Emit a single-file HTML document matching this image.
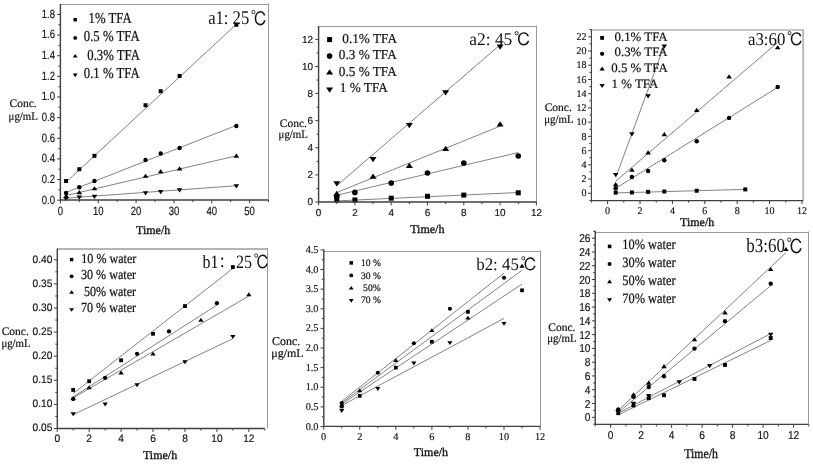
<!DOCTYPE html>
<html lang="en"><head><meta charset="utf-8"><title>Conc. vs Time/h</title>
<style>html,body{margin:0;padding:0;background:#fff}svg{display:block;text-rendering:geometricPrecision}</style>
</head><body>
<svg width="813" height="464" viewBox="0 0 813 464">
<rect width="813" height="464" fill="#fff"/>
<g><path d="M60.4 4.5H268.5" stroke="#999" stroke-width="1" fill="none"/>
<path d="M268.5 3.5V200" stroke="#999" stroke-width="1" fill="none"/>
<path d="M66.08 182.14L236.36 24.24M66.08 192.46L236.36 125.38M66.08 195.56L236.36 155.82M66.08 198.14L236.36 185.75" stroke="#626262" stroke-width="0.8" fill="none"/>
<g fill="#000"><rect x="64.08" y="179" width="4" height="4"/><rect x="77.32" y="167.24" width="4" height="4"/><rect x="92.46" y="153.82" width="4" height="4"/><rect x="143.54" y="103.26" width="4" height="4"/><rect x="158.68" y="89.22" width="4" height="4"/><rect x="177.6" y="73.95" width="4" height="4"/><rect x="234.36" y="22.76" width="4" height="4"/><circle cx="66.08" cy="192.98" r="2.24"/><circle cx="79.32" cy="187.2" r="2.24"/><circle cx="94.46" cy="181" r="2.24"/><circle cx="145.54" cy="159.95" r="2.24"/><circle cx="160.68" cy="153.55" r="2.24"/><circle cx="179.6" cy="147.98" r="2.24"/><circle cx="236.36" cy="125.9" r="2.24"/><path d="M63.28 197.97L68.88 197.97L66.08 193.77Z"/><path d="M76.52 194.15L82.12 194.15L79.32 189.95Z"/><path d="M91.66 190.34L97.26 190.34L94.46 186.14Z"/><path d="M142.74 177.85L148.34 177.85L145.54 173.65Z"/><path d="M157.88 173.2L163.48 173.2L160.68 169Z"/><path d="M176.8 170.42L182.4 170.42L179.6 166.22Z"/><path d="M233.56 157.72L239.16 157.72L236.36 153.52Z"/><path d="M63.28 197.06L68.88 197.06L66.08 201.26Z"/><path d="M76.52 195.62L82.12 195.62L79.32 199.82Z"/><path d="M91.66 194.69L97.26 194.69L94.46 198.89Z"/><path d="M142.74 191.28L148.34 191.28L145.54 195.48Z"/><path d="M157.88 190.04L163.48 190.04L160.68 194.24Z"/><path d="M176.8 188.19L182.4 188.19L179.6 192.39Z"/><path d="M233.56 184.37L239.16 184.37L236.36 188.57Z"/></g>
<path d="M60.4 200v3.4M98.24 200v3.4M136.08 200v3.4M173.92 200v3.4M211.76 200v3.4M249.6 200v3.4M79.32 200v2M117.16 200v2M155 200v2M192.84 200v2M230.68 200v2M268.52 200v2M60.4 200.2h-3.3M60.4 179.56h-3.3M60.4 158.92h-3.3M60.4 138.28h-3.3M60.4 117.64h-3.3M60.4 97h-3.3M60.4 76.36h-3.3M60.4 55.72h-3.3M60.4 35.08h-3.3M60.4 14.44h-3.3M60.4 189.88h-2M60.4 169.24h-2M60.4 148.6h-2M60.4 127.96h-2M60.4 107.32h-2M60.4 86.68h-2M60.4 66.04h-2M60.4 45.4h-2M60.4 24.76h-2" stroke="#3a3a3a" stroke-width="1" fill="none"/>
<path d="M60.4 4V200H268.5" stroke="#404040" stroke-width="1.4" fill="none"/>
<g font-family='"Liberation Sans", Arial, sans-serif' font-size="10" fill="#111" stroke="#111" stroke-width="0.15"><text transform="translate(60.4 215.2) scale(0.95 1.2)" text-anchor="middle">0</text><text transform="translate(98.24 215.2) scale(0.95 1.2)" text-anchor="middle">10</text><text transform="translate(136.08 215.2) scale(0.95 1.2)" text-anchor="middle">20</text><text transform="translate(173.92 215.2) scale(0.95 1.2)" text-anchor="middle">30</text><text transform="translate(211.76 215.2) scale(0.95 1.2)" text-anchor="middle">40</text><text transform="translate(249.6 215.2) scale(0.95 1.2)" text-anchor="middle">50</text><text transform="translate(55 203.6) scale(0.95 1.2)" text-anchor="end">0.0</text><text transform="translate(55 182.96) scale(0.95 1.2)" text-anchor="end">0.2</text><text transform="translate(55 162.32) scale(0.95 1.2)" text-anchor="end">0.4</text><text transform="translate(55 141.68) scale(0.95 1.2)" text-anchor="end">0.6</text><text transform="translate(55 121.04) scale(0.95 1.2)" text-anchor="end">0.8</text><text transform="translate(55 100.4) scale(0.95 1.2)" text-anchor="end">1.0</text><text transform="translate(55 79.76) scale(0.95 1.2)" text-anchor="end">1.2</text><text transform="translate(55 59.12) scale(0.95 1.2)" text-anchor="end">1.4</text><text transform="translate(55 38.48) scale(0.95 1.2)" text-anchor="end">1.6</text><text transform="translate(55 17.84) scale(0.95 1.2)" text-anchor="end">1.8</text></g>
<text transform="translate(208.2 24.3) scale(1 1.17)" font-family='"Liberation Serif", "Noto Serif CJK SC", "Noto Sans CJK SC", serif' font-size="16.6" fill="#111">a1: 25<tspan font-family='"IPAGothic", "Noto Sans CJK SC", sans-serif' font-size="100%" dx="1.5" dy="1.3">℃</tspan></text>
<text transform="translate(136 234) scale(1 1)" font-family='"Liberation Serif", "Noto Serif CJK SC", "Noto Sans CJK SC", serif' font-size="12" fill="#111" stroke="#111" stroke-width="0.3">Time/h</text>
<text x="9.5" y="106.7" font-family='"Liberation Serif", "Noto Serif CJK SC", "Noto Sans CJK SC", serif' font-size="11.5" fill="#111" stroke="#111" stroke-width="0.2">Conc.</text>
<text transform="translate(8.6 120.1) scale(0.94 1)" font-family='"Liberation Serif", "Noto Serif CJK SC", "Noto Sans CJK SC", serif' font-size="11.5" fill="#111" stroke="#111" stroke-width="0.2">μg/mL</text>
<g fill="#000"><rect x="73.5" y="18" width="3.4" height="3.4"/></g>
<text transform="translate(88.6 22.7) scale(1.02 1.22)" font-family='"Liberation Serif", "Noto Serif CJK SC", "Noto Sans CJK SC", serif' font-size="12.5" fill="#111" stroke="#111" stroke-width="0.2">1% TFA</text>
<g fill="#000"><circle cx="75.2" cy="37.9" r="1.9"/></g>
<text transform="translate(83.8 41) scale(1.02 1.22)" font-family='"Liberation Serif", "Noto Serif CJK SC", "Noto Sans CJK SC", serif' font-size="12.5" fill="#111" stroke="#111" stroke-width="0.2">0.5 % TFA</text>
<g fill="#000"><path d="M72.82 57.52L77.58 57.52L75.2 53.95Z"/></g>
<text transform="translate(87.3 59.7) scale(1.02 1.22)" font-family='"Liberation Serif", "Noto Serif CJK SC", "Noto Sans CJK SC", serif' font-size="12.5" fill="#111" stroke="#111" stroke-width="0.2">0.3% TFA</text>
<g fill="#000"><path d="M72.82 73.59L77.58 73.59L75.2 77.16Z"/></g>
<text transform="translate(83.8 77.7) scale(1.02 1.22)" font-family='"Liberation Serif", "Noto Serif CJK SC", "Noto Sans CJK SC", serif' font-size="12.5" fill="#111" stroke="#111" stroke-width="0.2">0.1 % TFA</text></g>
<g><path d="M318.6 26.5H536.5" stroke="#999" stroke-width="1" fill="none"/>
<path d="M536.5 25.5V202" stroke="#999" stroke-width="1" fill="none"/>
<path d="M336.75 185.74L500.1 44.82M336.75 192.51L500.1 126.12M336.75 195.22L518.25 152.54M336.75 200.92L518.25 192.51" stroke="#626262" stroke-width="0.8" fill="none"/>
<g fill="#000"><path d="M333.25 181.33L340.25 181.33L336.75 186.58Z"/><path d="M369.55 157.08L376.55 157.08L373.05 162.33Z"/><path d="M405.85 122.93L412.85 122.93L409.35 128.18Z"/><path d="M442.15 90.14L449.15 90.14L445.65 95.39Z"/><path d="M496.6 44.48L503.6 44.48L500.1 49.73Z"/><path d="M333.25 195.97L340.25 195.97L336.75 190.72Z"/><path d="M369.55 178.63L376.55 178.63L373.05 173.38Z"/><path d="M405.85 168.06L412.85 168.06L409.35 162.81Z"/><path d="M442.15 150.99L449.15 150.99L445.65 145.74Z"/><path d="M496.6 126.6L503.6 126.6L500.1 121.35Z"/><circle cx="336.75" cy="196.58" r="2.8"/><circle cx="354.9" cy="192.38" r="2.8"/><circle cx="391.2" cy="183.03" r="2.8"/><circle cx="427.5" cy="173" r="2.8"/><circle cx="463.8" cy="162.98" r="2.8"/><circle cx="518.25" cy="155.93" r="2.8"/><rect x="334.25" y="197.47" width="5" height="5"/><rect x="352.4" y="197.47" width="5" height="5"/><rect x="388.7" y="195.71" width="5" height="5"/><rect x="425" y="193.81" width="5" height="5"/><rect x="461.3" y="192.59" width="5" height="5"/><rect x="515.75" y="190.29" width="5" height="5"/></g>
<path d="M318.6 202v3.4M354.9 202v3.4M391.2 202v3.4M427.5 202v3.4M463.8 202v3.4M500.1 202v3.4M536.4 202v3.4M336.75 202v2M373.05 202v2M409.35 202v2M445.65 202v2M481.95 202v2M518.25 202v2M318.6 202h-3.3M318.6 174.9h-3.3M318.6 147.8h-3.3M318.6 120.7h-3.3M318.6 93.6h-3.3M318.6 66.5h-3.3M318.6 39.4h-3.3M318.6 188.45h-2M318.6 161.35h-2M318.6 134.25h-2M318.6 107.15h-2M318.6 80.05h-2M318.6 52.95h-2" stroke="#3a3a3a" stroke-width="1" fill="none"/>
<path d="M318.6 26V202H536.5" stroke="#404040" stroke-width="1.4" fill="none"/>
<g font-family='"Liberation Sans", Arial, sans-serif' font-size="9.2" fill="#111" stroke="#111" stroke-width="0.15"><text transform="translate(318.6 216) scale(1.08 1.1)" text-anchor="middle">0</text><text transform="translate(354.9 216) scale(1.08 1.1)" text-anchor="middle">2</text><text transform="translate(391.2 216) scale(1.08 1.1)" text-anchor="middle">4</text><text transform="translate(427.5 216) scale(1.08 1.1)" text-anchor="middle">6</text><text transform="translate(463.8 216) scale(1.08 1.1)" text-anchor="middle">8</text><text transform="translate(500.1 216) scale(1.08 1.1)" text-anchor="middle">10</text><text transform="translate(536.4 216) scale(1.08 1.1)" text-anchor="middle">12</text><text transform="translate(313 205.32) scale(1.08 1.1)" text-anchor="end">0</text><text transform="translate(313 178.22) scale(1.08 1.1)" text-anchor="end">2</text><text transform="translate(313 151.12) scale(1.08 1.1)" text-anchor="end">4</text><text transform="translate(313 124.02) scale(1.08 1.1)" text-anchor="end">6</text><text transform="translate(313 96.92) scale(1.08 1.1)" text-anchor="end">8</text><text transform="translate(313 69.82) scale(1.08 1.1)" text-anchor="end">10</text><text transform="translate(313 42.72) scale(1.08 1.1)" text-anchor="end">12</text></g>
<text transform="translate(469.3 44.6) scale(1 1.03)" font-family='"Liberation Serif", "Noto Serif CJK SC", "Noto Sans CJK SC", serif' font-size="17.4" fill="#111">a2: 45<tspan font-family='"IPAGothic", "Noto Sans CJK SC", sans-serif' font-size="100%" dx="1.5" dy="1.3">℃</tspan></text>
<text transform="translate(410.2 233.1) scale(1 1)" font-family='"Liberation Serif", "Noto Serif CJK SC", "Noto Sans CJK SC", serif' font-size="12" fill="#111" stroke="#111" stroke-width="0.3">Time/h</text>
<text x="279.8" y="126.5" font-family='"Liberation Serif", "Noto Serif CJK SC", "Noto Sans CJK SC", serif' font-size="11.5" fill="#111" stroke="#111" stroke-width="0.2">Conc.</text>
<text transform="translate(278.6 137.7) scale(0.94 1)" font-family='"Liberation Serif", "Noto Serif CJK SC", "Noto Sans CJK SC", serif' font-size="11.5" fill="#111" stroke="#111" stroke-width="0.2">μg/mL</text>
<g fill="#000"><rect x="327.1" y="37.1" width="5" height="5"/></g>
<text transform="translate(342.3 42.8) scale(1.03 1.06)" font-family='"Liberation Serif", "Noto Serif CJK SC", "Noto Sans CJK SC", serif' font-size="12.85" fill="#111" stroke="#111" stroke-width="0.2">0.1% TFA</text>
<g fill="#000"><circle cx="329.6" cy="56.1" r="2.8"/></g>
<text transform="translate(338.8 59.3) scale(1.03 1.06)" font-family='"Liberation Serif", "Noto Serif CJK SC", "Noto Sans CJK SC", serif' font-size="12.85" fill="#111" stroke="#111" stroke-width="0.2">0.3 % TFA</text>
<g fill="#000"><path d="M326.1 74.58L333.1 74.58L329.6 69.33Z"/></g>
<text transform="translate(338.8 75.8) scale(1.03 1.06)" font-family='"Liberation Serif", "Noto Serif CJK SC", "Noto Sans CJK SC", serif' font-size="12.85" fill="#111" stroke="#111" stroke-width="0.2">0.5 % TFA</text>
<g fill="#000"><path d="M326.1 87.42L333.1 87.42L329.6 92.67Z"/></g>
<text transform="translate(339.8 92.3) scale(1.03 1.06)" font-family='"Liberation Serif", "Noto Serif CJK SC", "Noto Sans CJK SC", serif' font-size="12.85" fill="#111" stroke="#111" stroke-width="0.2">1 % TFA</text></g>
<g><path d="M591.4 30H803.2" stroke="#b4b4b4" stroke-width="1.6" fill="none"/>
<path d="M803.2 29V200.6" stroke="#b4b4b4" stroke-width="1.8" fill="none"/>
<path d="M615.7 177.65L664.3 45.31M615.7 181.2L777.7 42.46M615.7 188.32L777.7 87.29M615.7 192.94L745.3 189.39" stroke="#626262" stroke-width="0.8" fill="none"/>
<g fill="#000"><path d="M612.9 172.9L618.5 172.9L615.7 177.1Z"/><path d="M629.1 132.35L634.7 132.35L631.9 136.55Z"/><path d="M645.3 94.28L650.9 94.28L648.1 98.48Z"/><path d="M661.5 44.48L667.1 44.48L664.3 48.68Z"/><path d="M612.9 186.24L618.5 186.24L615.7 182.04Z"/><path d="M629.1 171.72L634.7 171.72L631.9 167.52Z"/><path d="M645.3 154.43L650.9 154.43L648.1 150.23Z"/><path d="M661.5 136.15L667.1 136.15L664.3 131.95Z"/><path d="M693.9 111.95L699.5 111.95L696.7 107.75Z"/><path d="M726.3 78.51L731.9 78.51L729.1 74.31Z"/><path d="M774.9 49.34L780.5 49.34L777.7 45.14Z"/><circle cx="615.7" cy="188.32" r="2.24"/><circle cx="631.9" cy="176.94" r="2.24"/><circle cx="648.1" cy="170.89" r="2.24"/><circle cx="664.3" cy="160.22" r="2.24"/><circle cx="696.7" cy="141.36" r="2.24"/><circle cx="729.1" cy="117.88" r="2.24"/><circle cx="777.7" cy="86.93" r="2.24"/><rect x="613.7" y="190.59" width="4" height="4"/><rect x="629.9" y="190.45" width="4" height="4"/><rect x="646.1" y="189.88" width="4" height="4"/><rect x="662.3" y="189.52" width="4" height="4"/><rect x="694.7" y="188.74" width="4" height="4"/><rect x="743.3" y="187.39" width="4" height="4"/></g>
<path d="M607.6 200.6v3.4M640 200.6v3.4M672.4 200.6v3.4M704.8 200.6v3.4M737.2 200.6v3.4M769.6 200.6v3.4M802 200.6v3.4M591.4 200.6v2M623.8 200.6v2M656.2 200.6v2M688.6 200.6v2M721 200.6v2M753.4 200.6v2M785.8 200.6v2M591.4 193.3h-3.3M591.4 179.07h-3.3M591.4 164.84h-3.3M591.4 150.61h-3.3M591.4 136.38h-3.3M591.4 122.15h-3.3M591.4 107.92h-3.3M591.4 93.69h-3.3M591.4 79.46h-3.3M591.4 65.23h-3.3M591.4 51h-3.3M591.4 36.77h-3.3M591.4 200.42h-2M591.4 186.19h-2M591.4 171.96h-2M591.4 157.73h-2M591.4 143.5h-2M591.4 129.27h-2M591.4 115.04h-2M591.4 100.81h-2M591.4 86.58h-2M591.4 72.35h-2M591.4 58.12h-2M591.4 43.89h-2M591.4 29.66h-2" stroke="#3a3a3a" stroke-width="1" fill="none"/>
<path d="M591.4 29.16V200.6H803.2" stroke="#404040" stroke-width="1.1" fill="none"/>
<g font-family='"Liberation Serif", "Noto Serif CJK SC", "Noto Sans CJK SC", serif' font-size="10" fill="#111" stroke="#111" stroke-width="0.15"><text transform="translate(607.6 213.8) scale(1 1.03)" text-anchor="middle">0</text><text transform="translate(640 213.8) scale(1 1.03)" text-anchor="middle">2</text><text transform="translate(672.4 213.8) scale(1 1.03)" text-anchor="middle">4</text><text transform="translate(704.8 213.8) scale(1 1.03)" text-anchor="middle">6</text><text transform="translate(737.2 213.8) scale(1 1.03)" text-anchor="middle">8</text><text transform="translate(769.6 213.8) scale(1 1.03)" text-anchor="middle">10</text><text transform="translate(802 213.8) scale(1 1.03)" text-anchor="middle">12</text><text transform="translate(586.5 196.48) scale(1 1.03)" text-anchor="end">0</text><text transform="translate(586.5 182.25) scale(1 1.03)" text-anchor="end">2</text><text transform="translate(586.5 168.02) scale(1 1.03)" text-anchor="end">4</text><text transform="translate(586.5 153.79) scale(1 1.03)" text-anchor="end">6</text><text transform="translate(586.5 139.56) scale(1 1.03)" text-anchor="end">8</text><text transform="translate(586.5 125.33) scale(1 1.03)" text-anchor="end">10</text><text transform="translate(586.5 111.1) scale(1 1.03)" text-anchor="end">12</text><text transform="translate(586.5 96.87) scale(1 1.03)" text-anchor="end">14</text><text transform="translate(586.5 82.64) scale(1 1.03)" text-anchor="end">16</text><text transform="translate(586.5 68.41) scale(1 1.03)" text-anchor="end">18</text><text transform="translate(586.5 54.18) scale(1 1.03)" text-anchor="end">20</text><text transform="translate(586.5 39.95) scale(1 1.03)" text-anchor="end">22</text></g>
<text transform="translate(748 44.8) scale(1 1.07)" font-family='"Liberation Serif", "Noto Serif CJK SC", "Noto Sans CJK SC", serif' font-size="16.8" fill="#111">a3:60<tspan font-family='"IPAGothic", "Noto Sans CJK SC", sans-serif' font-size="100%" dx="1.5" dy="1.3">℃</tspan></text>
<text transform="translate(680 226) scale(1 1)" font-family='"Liberation Serif", "Noto Serif CJK SC", "Noto Sans CJK SC", serif' font-size="12" fill="#111" stroke="#111" stroke-width="0.3">Time/h</text>
<text x="544.7" y="110.5" font-family='"Liberation Serif", "Noto Serif CJK SC", "Noto Sans CJK SC", serif' font-size="11.5" fill="#111" stroke="#111" stroke-width="0.2">Conc.</text>
<text transform="translate(544.3 123.4) scale(0.94 1)" font-family='"Liberation Serif", "Noto Serif CJK SC", "Noto Sans CJK SC", serif' font-size="11.5" fill="#111" stroke="#111" stroke-width="0.2">μg/mL</text>
<g fill="#000"><rect x="600.2" y="36" width="3.8" height="3.8"/></g>
<text transform="translate(614.5 40.7) scale(1.03 1.03)" font-family='"Liberation Serif", "Noto Serif CJK SC", "Noto Sans CJK SC", serif' font-size="12.5" fill="#111" stroke="#111" stroke-width="0.2">0.1% TFA</text>
<g fill="#000"><circle cx="602.1" cy="53.8" r="2.13"/></g>
<text transform="translate(614.5 56.2) scale(1.03 1.03)" font-family='"Liberation Serif", "Noto Serif CJK SC", "Noto Sans CJK SC", serif' font-size="12.5" fill="#111" stroke="#111" stroke-width="0.2">0.3% TFA</text>
<g fill="#000"><path d="M599.44 70.41L604.76 70.41L602.1 66.41Z"/></g>
<text transform="translate(611.3 71.8) scale(1.03 1.03)" font-family='"Liberation Serif", "Noto Serif CJK SC", "Noto Sans CJK SC", serif' font-size="12.5" fill="#111" stroke="#111" stroke-width="0.2">0.5 % TFA</text>
<g fill="#000"><path d="M599.44 84.09L604.76 84.09L602.1 88.09Z"/></g>
<text transform="translate(611.6 87.8) scale(1.03 1.03)" font-family='"Liberation Serif", "Noto Serif CJK SC", "Noto Sans CJK SC", serif' font-size="12.5" fill="#111" stroke="#111" stroke-width="0.2">1 % TFA</text></g>
<g><path d="M57.3 249H267.5" stroke="#b4b4b4" stroke-width="1.8" fill="none"/>
<path d="M267.5 248V428.5" stroke="#999" stroke-width="1" fill="none"/>
<path d="M73.17 393.51L232.87 268.48M73.17 396.88L216.9 305.11M73.17 397.89L248.84 296.09M73.17 414.71L232.87 338.7" stroke="#626262" stroke-width="0.8" fill="none"/>
<g fill="#000"><rect x="71.27" y="388.04" width="3.8" height="3.8"/><rect x="87.24" y="379.36" width="3.8" height="3.8"/><rect x="119.18" y="358.4" width="3.8" height="3.8"/><rect x="151.12" y="331.89" width="3.8" height="3.8"/><rect x="183.06" y="304.17" width="3.8" height="3.8"/><rect x="230.97" y="265.13" width="3.8" height="3.8"/><circle cx="73.17" cy="399.1" r="2.13"/><circle cx="105.11" cy="377.89" r="2.13"/><circle cx="137.05" cy="353.79" r="2.13"/><circle cx="168.99" cy="331.38" r="2.13"/><circle cx="216.9" cy="303.18" r="2.13"/><path d="M70.51 399.94L75.83 399.94L73.17 395.95Z"/><path d="M86.48 389.33L91.8 389.33L89.14 385.34Z"/><path d="M118.42 374.39L123.74 374.39L121.08 370.4Z"/><path d="M150.36 355.6L155.68 355.6L153.02 351.61Z"/><path d="M198.27 321.85L203.59 321.85L200.93 317.86Z"/><path d="M246.18 296.31L251.5 296.31L248.84 292.32Z"/><path d="M70.51 412.24L75.83 412.24L73.17 416.23Z"/><path d="M102.45 402.59L107.77 402.59L105.11 406.58Z"/><path d="M134.39 383.31L139.71 383.31L137.05 387.31Z"/><path d="M182.3 360.18L187.62 360.18L184.96 364.17Z"/><path d="M230.21 335.12L235.53 335.12L232.87 339.11Z"/></g>
<path d="M57.2 428.5v3.4M89.14 428.5v3.4M121.08 428.5v3.4M153.02 428.5v3.4M184.96 428.5v3.4M216.9 428.5v3.4M248.84 428.5v3.4M73.17 428.5v2M105.11 428.5v2M137.05 428.5v2M168.99 428.5v2M200.93 428.5v2M232.87 428.5v2M264.81 428.5v2M57.3 428.5h-3.3M57.3 404.4h-3.3M57.3 380.3h-3.3M57.3 356.2h-3.3M57.3 332.1h-3.3M57.3 308h-3.3M57.3 283.9h-3.3M57.3 259.8h-3.3M57.3 416.45h-2M57.3 392.35h-2M57.3 368.25h-2M57.3 344.15h-2M57.3 320.05h-2M57.3 295.95h-2M57.3 271.85h-2" stroke="#3a3a3a" stroke-width="1" fill="none"/>
<path d="M57.3 248.5V428.5H264.7" stroke="#404040" stroke-width="1.4" fill="none"/>
<g font-family='"Liberation Sans", Arial, sans-serif' font-size="9.7" fill="#111" stroke="#111" stroke-width="0.15"><text transform="translate(57.2 442.1) scale(1.05 1.12)" text-anchor="middle">0</text><text transform="translate(89.14 442.1) scale(1.05 1.12)" text-anchor="middle">2</text><text transform="translate(121.08 442.1) scale(1.05 1.12)" text-anchor="middle">4</text><text transform="translate(153.02 442.1) scale(1.05 1.12)" text-anchor="middle">6</text><text transform="translate(184.96 442.1) scale(1.05 1.12)" text-anchor="middle">8</text><text transform="translate(216.9 442.1) scale(1.05 1.12)" text-anchor="middle">10</text><text transform="translate(248.84 442.1) scale(1.05 1.12)" text-anchor="middle">12</text><text transform="translate(52.4 431.49) scale(1.05 1.12)" text-anchor="end">0.05</text><text transform="translate(52.4 407.39) scale(1.05 1.12)" text-anchor="end">0.10</text><text transform="translate(52.4 383.29) scale(1.05 1.12)" text-anchor="end">0.15</text><text transform="translate(52.4 359.19) scale(1.05 1.12)" text-anchor="end">0.20</text><text transform="translate(52.4 335.09) scale(1.05 1.12)" text-anchor="end">0.25</text><text transform="translate(52.4 310.99) scale(1.05 1.12)" text-anchor="end">0.30</text><text transform="translate(52.4 286.89) scale(1.05 1.12)" text-anchor="end">0.35</text><text transform="translate(52.4 262.79) scale(1.05 1.12)" text-anchor="end">0.40</text></g>
<text transform="translate(202.4 267.6) scale(1 1.18)" font-family='"Liberation Serif", "Noto Serif CJK SC", "Noto Sans CJK SC", serif' font-size="16" fill="#111">b1：<tspan dx="1.5">25</tspan><tspan font-family='"IPAGothic", "Noto Sans CJK SC", sans-serif' font-size="100%" dx="1.5" dy="1.3">℃</tspan></text>
<text transform="translate(142.9 459) scale(1 1)" font-family='"Liberation Serif", "Noto Serif CJK SC", "Noto Sans CJK SC", serif' font-size="12" fill="#111" stroke="#111" stroke-width="0.3">Time/h</text>
<text x="1.7" y="335.3" font-family='"Liberation Serif", "Noto Serif CJK SC", "Noto Sans CJK SC", serif' font-size="11.5" fill="#111" stroke="#111" stroke-width="0.2">Conc.</text>
<text transform="translate(1.4 346.5) scale(0.94 1)" font-family='"Liberation Serif", "Noto Serif CJK SC", "Noto Sans CJK SC", serif' font-size="11.5" fill="#111" stroke="#111" stroke-width="0.2">μg/mL</text>
<g fill="#000"><rect x="69.89" y="257.89" width="3.42" height="3.42"/></g>
<text transform="translate(81.3 262.6) scale(1 1.14)" font-family='"Liberation Serif", "Noto Serif CJK SC", "Noto Sans CJK SC", serif' font-size="12.1" fill="#111" stroke="#111" stroke-width="0.2">10 % water</text>
<g fill="#000"><circle cx="71.6" cy="276.3" r="1.92"/></g>
<text transform="translate(81 279.2) scale(1 1.14)" font-family='"Liberation Serif", "Noto Serif CJK SC", "Noto Sans CJK SC", serif' font-size="12.1" fill="#111" stroke="#111" stroke-width="0.2">30 % water</text>
<g fill="#000"><path d="M69.21 293.72L73.99 293.72L71.6 290.13Z"/></g>
<text transform="translate(84 295.6) scale(1 1.14)" font-family='"Liberation Serif", "Noto Serif CJK SC", "Noto Sans CJK SC", serif' font-size="12.1" fill="#111" stroke="#111" stroke-width="0.2">50% water</text>
<g fill="#000"><path d="M69.21 308.18L73.99 308.18L71.6 311.77Z"/></g>
<text transform="translate(81 312.4) scale(1 1.14)" font-family='"Liberation Serif", "Noto Serif CJK SC", "Noto Sans CJK SC", serif' font-size="12.1" fill="#111" stroke="#111" stroke-width="0.2">70 % water</text></g>
<g><path d="M323.8 251.5H540.5" stroke="#999" stroke-width="1" fill="none"/>
<path d="M540.5 250.5V426.4" stroke="#999" stroke-width="1" fill="none"/>
<path d="M341.73 404.01L522.03 284.02M341.73 401.3L504 273.11M341.73 402.79L522.03 270.28M341.73 405.5L504 318.41" stroke="#626262" stroke-width="0.8" fill="none"/>
<g fill="#000"><rect x="339.88" y="404.63" width="3.7" height="3.7"/><rect x="357.91" y="394.03" width="3.7" height="3.7"/><rect x="393.97" y="365.77" width="3.7" height="3.7"/><rect x="430.03" y="339.87" width="3.7" height="3.7"/><rect x="466.09" y="310.04" width="3.7" height="3.7"/><rect x="520.18" y="288.45" width="3.7" height="3.7"/><circle cx="341.73" cy="402.95" r="2.07"/><circle cx="377.79" cy="372.73" r="2.07"/><circle cx="413.85" cy="343.29" r="2.07"/><circle cx="449.91" cy="308.75" r="2.07"/><circle cx="504" cy="277.74" r="2.07"/><path d="M339.14 406.67L344.32 406.67L341.73 402.79Z"/><path d="M357.17 392.15L362.35 392.15L359.76 388.26Z"/><path d="M393.23 361.93L398.41 361.93L395.82 358.04Z"/><path d="M429.29 332.09L434.47 332.09L431.88 328.21Z"/><path d="M465.35 319.54L470.53 319.54L467.94 315.65Z"/><path d="M519.44 267.72L524.62 267.72L522.03 263.84Z"/><path d="M339.14 409.04L344.32 409.04L341.73 412.93Z"/><path d="M375.2 387.06L380.38 387.06L377.79 390.95Z"/><path d="M411.26 361.55L416.44 361.55L413.85 365.44Z"/><path d="M447.32 341.14L452.5 341.14L449.91 345.03Z"/><path d="M501.41 321.91L506.59 321.91L504 325.79Z"/></g>
<path d="M323.7 426.4v3.4M359.76 426.4v3.4M395.82 426.4v3.4M431.88 426.4v3.4M467.94 426.4v3.4M504 426.4v3.4M540.06 426.4v3.4M341.73 426.4v2M377.79 426.4v2M413.85 426.4v2M449.91 426.4v2M485.97 426.4v2M522.03 426.4v2M323.8 426.5h-3.3M323.8 406.88h-3.3M323.8 387.25h-3.3M323.8 367.62h-3.3M323.8 348h-3.3M323.8 328.38h-3.3M323.8 308.75h-3.3M323.8 289.12h-3.3M323.8 269.5h-3.3M323.8 249.88h-3.3M323.8 416.69h-2M323.8 397.06h-2M323.8 377.44h-2M323.8 357.81h-2M323.8 338.19h-2M323.8 318.56h-2M323.8 298.94h-2M323.8 279.31h-2M323.8 259.69h-2" stroke="#3a3a3a" stroke-width="1" fill="none"/>
<path d="M323.8 249.38V426.4H540.5" stroke="#404040" stroke-width="1.4" fill="none"/>
<g font-family='"Liberation Serif", "Noto Serif CJK SC", "Noto Sans CJK SC", serif' font-size="10.3" fill="#111" stroke="#111" stroke-width="0.15"><text transform="translate(323.7 439.5) scale(1 1.02)" text-anchor="middle">0</text><text transform="translate(359.76 439.5) scale(1 1.02)" text-anchor="middle">2</text><text transform="translate(395.82 439.5) scale(1 1.02)" text-anchor="middle">4</text><text transform="translate(431.88 439.5) scale(1 1.02)" text-anchor="middle">6</text><text transform="translate(467.94 439.5) scale(1 1.02)" text-anchor="middle">8</text><text transform="translate(504 439.5) scale(1 1.02)" text-anchor="middle">10</text><text transform="translate(540.06 439.5) scale(1 1.02)" text-anchor="middle">12</text><text transform="translate(318.5 429.55) scale(1 1.02)" text-anchor="end">0.0</text><text transform="translate(318.5 409.93) scale(1 1.02)" text-anchor="end">0.5</text><text transform="translate(318.5 390.3) scale(1 1.02)" text-anchor="end">1.0</text><text transform="translate(318.5 370.68) scale(1 1.02)" text-anchor="end">1.5</text><text transform="translate(318.5 351.05) scale(1 1.02)" text-anchor="end">2.0</text><text transform="translate(318.5 331.43) scale(1 1.02)" text-anchor="end">2.5</text><text transform="translate(318.5 311.8) scale(1 1.02)" text-anchor="end">3.0</text><text transform="translate(318.5 292.18) scale(1 1.02)" text-anchor="end">3.5</text><text transform="translate(318.5 272.55) scale(1 1.02)" text-anchor="end">4.0</text><text transform="translate(318.5 252.93) scale(1 1.02)" text-anchor="end">4.5</text></g>
<text transform="translate(476.2 269.8) scale(1 1.05)" font-family='"Liberation Serif", "Noto Serif CJK SC", "Noto Sans CJK SC", serif' font-size="16.9" fill="#111">b2: 45<tspan font-family='"IPAGothic", "Noto Sans CJK SC", sans-serif' font-size="100%" dx="1.5" dy="1.3">℃</tspan></text>
<text transform="translate(413.8 456) scale(1 1)" font-family='"Liberation Serif", "Noto Serif CJK SC", "Noto Sans CJK SC", serif' font-size="12" fill="#111" stroke="#111" stroke-width="0.3">Time/h</text>
<text x="272" y="344.8" font-family='"Liberation Serif", "Noto Serif CJK SC", "Noto Sans CJK SC", serif' font-size="12" fill="#111" stroke="#111" stroke-width="0.2">Conc.</text>
<text transform="translate(271.2 356.5) scale(1 1)" font-family='"Liberation Serif", "Noto Serif CJK SC", "Noto Sans CJK SC", serif' font-size="12" fill="#111" stroke="#111" stroke-width="0.2">μg/mL</text>
<g fill="#000"><rect x="349.49" y="261.14" width="3.52" height="3.52"/></g>
<text transform="translate(361 265.75) scale(1 1.03)" font-family='"Liberation Serif", "Noto Serif CJK SC", "Noto Sans CJK SC", serif' font-size="9.6" fill="#111" stroke="#111" stroke-width="0.2">10 %</text>
<g fill="#000"><circle cx="351.25" cy="275.4" r="1.97"/></g>
<text transform="translate(361 278.5) scale(1 1.03)" font-family='"Liberation Serif", "Noto Serif CJK SC", "Noto Sans CJK SC", serif' font-size="9.6" fill="#111" stroke="#111" stroke-width="0.2">30 %</text>
<g fill="#000"><path d="M348.79 289.57L353.71 289.57L351.25 285.88Z"/></g>
<text transform="translate(363.1 290.75) scale(1 1.03)" font-family='"Liberation Serif", "Noto Serif CJK SC", "Noto Sans CJK SC", serif' font-size="9.6" fill="#111" stroke="#111" stroke-width="0.2">50%</text>
<g fill="#000"><path d="M348.79 299.08L353.71 299.08L351.25 302.77Z"/></g>
<text transform="translate(361 303.25) scale(1 1.03)" font-family='"Liberation Serif", "Noto Serif CJK SC", "Noto Sans CJK SC", serif' font-size="9.6" fill="#111" stroke="#111" stroke-width="0.2">70 %</text></g>
<g><path d="M595.2 232.5H808.5" stroke="#999" stroke-width="1" fill="none"/>
<path d="M808.5 231.5V424.4" stroke="#999" stroke-width="1" fill="none"/>
<path d="M618.23 414.89L770.73 340.48M618.23 412.48L770.73 285.7M618.23 410.41L785.98 252.63M618.23 413.17L770.73 333.59" stroke="#626262" stroke-width="0.8" fill="none"/>
<g fill="#000"><rect x="616.27" y="411.22" width="3.9" height="3.9"/><rect x="631.52" y="403.43" width="3.9" height="3.9"/><rect x="646.77" y="396.2" width="3.9" height="3.9"/><rect x="662.02" y="393.3" width="3.9" height="3.9"/><rect x="692.52" y="376.97" width="3.9" height="3.9"/><rect x="723.02" y="362.99" width="3.9" height="3.9"/><rect x="768.77" y="336.12" width="3.9" height="3.9"/><circle cx="618.23" cy="409.72" r="2.18"/><circle cx="633.48" cy="396.84" r="2.18"/><circle cx="648.73" cy="386.98" r="2.18"/><circle cx="663.98" cy="376.3" r="2.18"/><circle cx="694.48" cy="348.61" r="2.18"/><circle cx="724.98" cy="321.18" r="2.18"/><circle cx="770.73" cy="283.63" r="2.18"/><path d="M615.5 410.88L620.96 410.88L618.23 406.79Z"/><path d="M630.75 396.42L636.21 396.42L633.48 392.32Z"/><path d="M646 384.7L651.46 384.7L648.73 380.61Z"/><path d="M661.25 368.17L666.71 368.17L663.98 364.07Z"/><path d="M691.75 341.3L697.21 341.3L694.48 337.2Z"/><path d="M722.25 314.42L727.71 314.42L724.98 310.33Z"/><path d="M768 271.02L773.46 271.02L770.73 266.92Z"/><path d="M783.25 251.04L788.71 251.04L785.98 246.94Z"/><path d="M615.5 409.94L620.96 409.94L618.23 414.03Z"/><path d="M630.75 401.67L636.21 401.67L633.48 405.76Z"/><path d="M646 394.09L651.46 394.09L648.73 398.18Z"/><path d="M676.5 380.31L681.96 380.31L679.23 384.4Z"/><path d="M707 364.12L712.46 364.12L709.73 368.21Z"/><path d="M768 332.77L773.46 332.77L770.73 336.86Z"/></g>
<path d="M610.6 424.4v3.4M641.1 424.4v3.4M671.6 424.4v3.4M702.1 424.4v3.4M732.6 424.4v3.4M763.1 424.4v3.4M793.6 424.4v3.4M595.35 424.4v2M625.85 424.4v2M656.35 424.4v2M686.85 424.4v2M717.35 424.4v2M747.85 424.4v2M778.35 424.4v2M808.85 424.4v2M595.2 417.3h-3.3M595.2 403.52h-3.3M595.2 389.74h-3.3M595.2 375.96h-3.3M595.2 362.18h-3.3M595.2 348.4h-3.3M595.2 334.62h-3.3M595.2 320.84h-3.3M595.2 307.06h-3.3M595.2 293.28h-3.3M595.2 279.5h-3.3M595.2 265.72h-3.3M595.2 251.94h-3.3M595.2 238.16h-3.3M595.2 424.19h-2M595.2 410.41h-2M595.2 396.63h-2M595.2 382.85h-2M595.2 369.07h-2M595.2 355.29h-2M595.2 341.51h-2M595.2 327.73h-2M595.2 313.95h-2M595.2 300.17h-2M595.2 286.39h-2M595.2 272.61h-2M595.2 258.83h-2M595.2 245.05h-2M595.2 231.27h-2" stroke="#3a3a3a" stroke-width="1" fill="none"/>
<path d="M595.2 230.77V424.4H808.5" stroke="#404040" stroke-width="1.4" fill="none"/>
<g font-family='"Liberation Sans", Arial, sans-serif' font-size="10.2" fill="#111" stroke="#111" stroke-width="0.15"><text transform="translate(610.6 438.8) scale(1 1.12)" text-anchor="middle">0</text><text transform="translate(641.1 438.8) scale(1 1.12)" text-anchor="middle">2</text><text transform="translate(671.6 438.8) scale(1 1.12)" text-anchor="middle">4</text><text transform="translate(702.1 438.8) scale(1 1.12)" text-anchor="middle">6</text><text transform="translate(732.6 438.8) scale(1 1.12)" text-anchor="middle">8</text><text transform="translate(763.1 438.8) scale(1 1.12)" text-anchor="middle">10</text><text transform="translate(793.6 438.8) scale(1 1.12)" text-anchor="middle">12</text><text transform="translate(590.5 421.39) scale(1 1.12)" text-anchor="end">0</text><text transform="translate(590.5 407.61) scale(1 1.12)" text-anchor="end">2</text><text transform="translate(590.5 393.83) scale(1 1.12)" text-anchor="end">4</text><text transform="translate(590.5 380.05) scale(1 1.12)" text-anchor="end">6</text><text transform="translate(590.5 366.27) scale(1 1.12)" text-anchor="end">8</text><text transform="translate(590.5 352.49) scale(1 1.12)" text-anchor="end">10</text><text transform="translate(590.5 338.71) scale(1 1.12)" text-anchor="end">12</text><text transform="translate(590.5 324.93) scale(1 1.12)" text-anchor="end">14</text><text transform="translate(590.5 311.15) scale(1 1.12)" text-anchor="end">16</text><text transform="translate(590.5 297.37) scale(1 1.12)" text-anchor="end">18</text><text transform="translate(590.5 283.59) scale(1 1.12)" text-anchor="end">20</text><text transform="translate(590.5 269.81) scale(1 1.12)" text-anchor="end">22</text><text transform="translate(590.5 256.03) scale(1 1.12)" text-anchor="end">24</text><text transform="translate(590.5 242.25) scale(1 1.12)" text-anchor="end">26</text></g>
<text transform="translate(746.2 252.3) scale(1 1.18)" font-family='"Liberation Serif", "Noto Serif CJK SC", "Noto Sans CJK SC", serif' font-size="17" fill="#111">b3:60<tspan font-family='"IPAGothic", "Noto Sans CJK SC", sans-serif' font-size="100%" dx="1.5" dy="1.3">℃</tspan></text>
<text transform="translate(684.2 457.8) scale(1 1.15)" font-family='"Liberation Serif", "Noto Serif CJK SC", "Noto Sans CJK SC", serif' font-size="11.8" fill="#111" stroke="#111" stroke-width="0.3">Time/h</text>
<text x="548.3" y="330.7" font-family='"Liberation Serif", "Noto Serif CJK SC", "Noto Sans CJK SC", serif' font-size="11.5" fill="#111" stroke="#111" stroke-width="0.2">Conc.</text>
<text transform="translate(547.2 342.2) scale(0.95 1)" font-family='"Liberation Serif", "Noto Serif CJK SC", "Noto Sans CJK SC", serif' font-size="11.5" fill="#111" stroke="#111" stroke-width="0.2">μg/mL</text>
<g fill="#000"><rect x="607.81" y="244.61" width="3.59" height="3.59"/></g>
<text transform="translate(622.3 249.4) scale(1 1.15)" font-family='"Liberation Serif", "Noto Serif CJK SC", "Noto Sans CJK SC", serif' font-size="12.4" fill="#111" stroke="#111" stroke-width="0.2">10% water</text>
<g fill="#000"><circle cx="609.6" cy="264" r="2.01"/></g>
<text transform="translate(622.3 267.4) scale(1 1.15)" font-family='"Liberation Serif", "Noto Serif CJK SC", "Noto Sans CJK SC", serif' font-size="12.4" fill="#111" stroke="#111" stroke-width="0.2">30% water</text>
<g fill="#000"><path d="M607.09 283.3L612.11 283.3L609.6 279.54Z"/></g>
<text transform="translate(622.3 285.4) scale(1 1.15)" font-family='"Liberation Serif", "Noto Serif CJK SC", "Noto Sans CJK SC", serif' font-size="12.4" fill="#111" stroke="#111" stroke-width="0.2">50% water</text>
<g fill="#000"><path d="M607.09 298.3L612.11 298.3L609.6 302.06Z"/></g>
<text transform="translate(622.3 302.7) scale(1 1.15)" font-family='"Liberation Serif", "Noto Serif CJK SC", "Noto Sans CJK SC", serif' font-size="12.4" fill="#111" stroke="#111" stroke-width="0.2">70% water</text></g>
</svg>
</body></html>
